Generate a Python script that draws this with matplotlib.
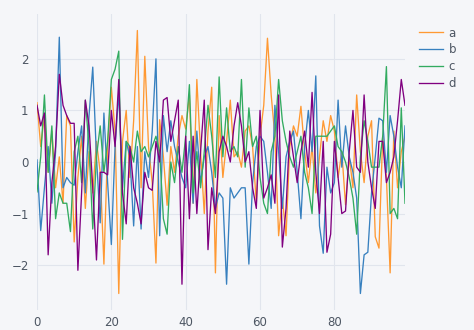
import matplotlib
matplotlib.use("Agg")
import matplotlib.pyplot as plt
import numpy as np

x = list(range(100))

a = [1.15, 0.3, 0.9, -0.2, 0.6, -0.5, 0.1, -0.8, 0.9, 0.7,
     -1.55, -0.3, 0.5, -0.9, 0.2, -0.6, 0.4, -0.2, -1.98, 0.3,
     1.45, 0.6, -2.55, 0.4, 1.0, -0.3, 0.8, 2.55, -0.5, 2.05,
     0.3, -0.4, -1.96, 0.82, 0.1, -0.84, 0.3, -0.2, 0.5, 0.9,
     0.64, 1.3, -0.8, 1.6, 0.2, -1.0, 0.6, 1.45, -2.15, 0.9,
     -0.3, 0.4, 1.2, 0.1, 0.2, -0.1, 0.6, 0.7, 0.3, -0.8,
     0.5, 1.1, 2.4, 1.3, 0.5, -1.43, -0.7, -1.43, 0.3, 0.7,
     0.5, 1.08, 0.2, -0.4, 0.3, -0.6, 0.1, 0.8, 0.4, 0.9,
     0.6, -0.3, 0.2, -0.83, 0.1, -0.5, 1.3, 0.2, -0.4, 0.5,
     0.8, -1.45, -1.67, 0.5, -0.3, -2.15, 0.6, -0.5, 0.2, 0.5]

b = [0.04, -1.33, -0.5, 0.3, -0.8, 0.2, 2.42, -0.5, -0.3, -0.4,
     -0.45, 0.2, 0.7, -0.6, 0.9, 1.84, 0.1, -1.18, 0.95, -0.4,
     -1.6, 0.3, 1.35, -0.5, 0.4, 0.1, -1.24, 0.3, -1.3, 0.2,
     -0.3, 0.6, 2.0, -1.43, 0.9, 0.2, 0.8, 0.3, 0.0, -0.3,
     -0.5, 0.4, -0.8, 0.6, -0.4, 0.1, 0.3, -0.2, -0.9, -0.6,
     -0.7, -2.37, -0.5, -0.7, -0.6, -0.5, -0.5, -1.98, -0.4, 0.3,
     0.5, 0.4, -0.2, -0.9, 1.1, 0.2, -0.9, 0.1, 0.4, 0.6,
     -0.2, -1.1, 0.3, 1.0, 0.2, 1.67, -1.24, -1.77, -0.1, -0.6,
     -0.4, 1.2, -0.1, 0.7, 0.1, -0.2, -0.7, -2.55, -1.8, -1.75,
     -0.6, 0.1, 0.85, 0.8, -0.2, 0.9, 0.5, -0.1, -0.5, 0.7]

c = [-0.58, 0.1, 1.3, -0.2, 0.7, -1.1, -0.6, -0.8, -0.8, -1.35,
     0.2, 0.5, -0.4, 1.2, 0.3, -1.3, 0.1, 0.7, -0.2, 0.4,
     1.6, 1.8, 2.15, -1.5, 0.4, 0.3, 0.0, 0.6, 0.2, 0.3,
     0.1, 0.3, 0.5, 0.2, -1.1, -1.4, 0.0, -0.4, 0.3, -0.2,
     0.5, 1.5, -0.6, 0.2, -0.5, 0.2, 1.1, 0.5, -0.3, 1.65,
     0.1, 1.05, 0.2, 0.3, 0.1, 1.6, -0.1, 1.05, 0.3, 0.5,
     -0.3, -0.8, -1.0, 0.2, 0.5, 1.6, 0.8, 0.4, 0.1, -0.1,
     0.2, 0.5, -0.2, -0.5, -1.0, 0.5, 0.5, 0.5, 0.5, 0.6,
     0.7, 0.3, 0.2, 0.0, -0.3, -0.7, -1.4, 0.1, 0.8, 0.4,
     -0.1, -0.1, -0.1, 0.5, 1.85, -1.0, -0.9, -1.1, 1.05, -0.8]

d = [1.1, 0.7, 0.95, -1.8, -0.4, 0.3, 1.7, 1.1, 0.9, 0.75,
     0.75, -2.1, -0.6, 1.2, 0.7, -0.5, -1.9, -0.2, -0.2, -0.25,
     1.0, 0.3, 1.6, -0.6, -1.2, 0.3, -0.5, -0.8, -1.2, -0.2,
     -0.5, -0.55, 0.4, 0.0, 1.2, 1.25, 0.4, 0.8, 1.2, -2.37,
     0.5, -1.1, 0.5, -1.0, 0.2, 1.2, -1.7, -0.5, -1.0, 0.2,
     0.5, 0.3, 0.0, 0.7, 1.15, 0.7, 0.0, 0.2, -0.5, -0.9,
     1.0, -0.7, -0.5, -0.25, -0.8, 1.3, -1.65, -0.9, 0.6, 0.1,
     -0.4, 0.2, 0.6, -0.1, 1.35, -0.2, -1.0, 0.4, -1.75, -1.4,
     0.4, -0.3, -1.0, -0.95, 0.2, 1.0, -0.1, -0.2, 1.3, 0.0,
     -0.5, -0.9, 0.4, 0.4, -0.4, -0.2, 0.1, 0.8, 1.6, 1.1]

names = ["a", "b", "c", "d"]
series = [a, b, c, d]
colors = ["#FF9933", "#3780BF", "#32AB60", "#800080"]

bg = "#F5F6F9"
grid = "#E1E5ED"
tick_color = "#4D5663"

fig = plt.figure(figsize=(4.74, 3.30), dpi=100, facecolor=bg)
ax = fig.add_axes([37/474, 20/330, 368/474, 296/330])
ax.set_facecolor(bg)

for name, s, col in zip(names, series, colors):
    ax.plot(x, s, color=col, lw=0.95, label=name)

ax.set_xlim(0, 99)
ax.set_ylim(-2.87, 2.87)
ax.set_xticks([0, 20, 40, 60, 80])
ax.set_yticks([-2, -1, 0, 1, 2])
ax.grid(True, color=grid, lw=0.8)
ax.set_axisbelow(True)
for sp in ax.spines.values():
    sp.set_visible(False)
ax.tick_params(length=0, colors=tick_color, labelsize=8.5)
ax.tick_params(axis='y', pad=6)
ax.tick_params(axis='x', pad=4)

leg = fig.legend(loc="upper left", bbox_to_anchor=(408/474, 1 - 16/330),
                 frameon=False, handlelength=2.1, labelspacing=0.32,
                 fontsize=8.5, handletextpad=0.45)
for t in leg.get_texts():
    t.set_color(tick_color)

fig.savefig("out.png", dpi=100, facecolor=bg)
